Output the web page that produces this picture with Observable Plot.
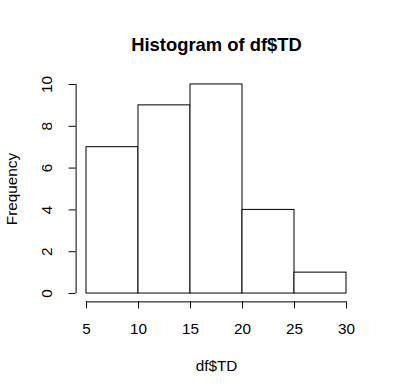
<!DOCTYPE html>
<html>
<head>
<meta charset="utf-8">
<script src="https://cdn.jsdelivr.net/npm/d3@7"></script>
<script src="https://cdn.jsdelivr.net/npm/@observablehq/plot@0.6"></script>
<style>
  html, body { margin: 0; padding: 0; background: white; }
</style>
</head>
<body>
<div id="chart"></div>
<script>
// Data
const breaks = [5, 10, 15, 20, 25, 30];
const counts = [7, 9, 10, 4, 1];
const xTicks = [5, 10, 15, 20, 25, 30];
const yTicks = [0, 2, 4, 6, 8, 10];
const titleText = "Histogram of df$TD";
const xLabel = "df$TD";
const yLabel = "Frequency";

const bins = counts.map((c, i) => ({x0: breaks[i], x1: breaks[i + 1], count: c}));

// R-style 4% domain extension
const xMin = d3.min(breaks), xMax = d3.max(breaks);
const xPad = 0.04 * (xMax - xMin);
const yMin = 0, yMax = d3.max(counts);
const yPad = 0.04 * (yMax - yMin);
const xDomain = [xMin - xPad, xMax + xPad];
const yDomain = [yMin - yPad, yMax + yPad];

const mL = 75.6, mR = 38.6, mT = 75.6, mB = 89.6;
const font = "'Liberation Sans', Arial, Helvetica, sans-serif";
const fs = 15.3;

const chart = Plot.plot({
  width: 395,
  height: 391,
  marginLeft: mL,
  marginRight: mR,
  marginTop: mT,
  marginBottom: mB,
  style: {fontFamily: font, fontSize: fs + "px", background: "white", color: "black"},
  x: {domain: xDomain},
  y: {domain: yDomain},
  marks: [
    Plot.rectY(bins, {x1: "x0", x2: "x1", y: "count", fill: "white", stroke: "black", strokeWidth: 1}),
    // x axis line
    Plot.ruleY([yDomain[0]], {x1: d3.min(xTicks), x2: d3.max(xTicks), stroke: "black"}),
    Plot.axisX({ticks: xTicks, tickSize: 7, tickPadding: 14.5, fontSize: fs, label: null, stroke: "black", fill: "black"}),
    // y axis line
    Plot.ruleX([xDomain[0]], {y1: d3.min(yTicks), y2: d3.max(yTicks), stroke: "black"}),
    Plot.axisY({ticks: yTicks, tickSize: 7, tickFormat: () => "", label: null, stroke: "black"}),
    Plot.text(yTicks, {y: d => d, text: d => String(d), frameAnchor: "left", dx: -29, rotate: -90, textAnchor: "middle", lineAnchor: "middle", fontSize: fs, fill: "black"}),
    // titles
    Plot.text([titleText], {frameAnchor: "top", dy: -38.5, fontWeight: "bold", fontSize: 18.4, fill: "black"}),
    Plot.text([xLabel], {frameAnchor: "bottom", dy: 69, fontSize: fs, fill: "black"}),
    Plot.text([yLabel], {frameAnchor: "left", dx: -64, rotate: -90, textAnchor: "middle", lineAnchor: "middle", fontSize: fs, fill: "black"})
  ]
});
document.getElementById("chart").appendChild(chart);
</script>
</body>
</html>
